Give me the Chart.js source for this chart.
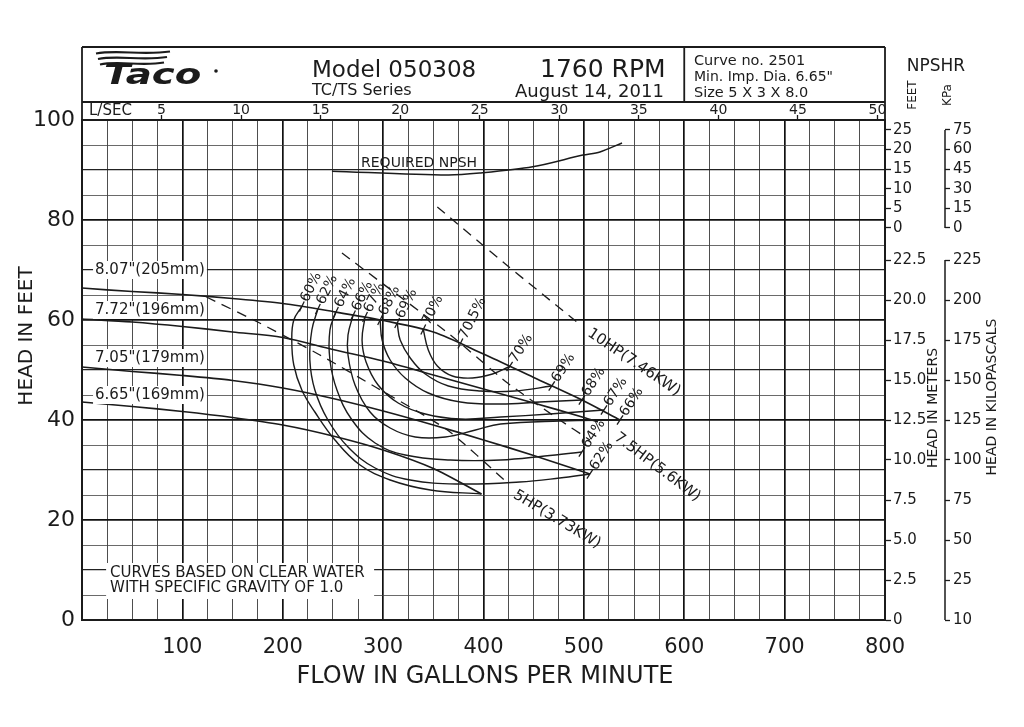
<!DOCTYPE html>
<html>
<head>
<meta charset="utf-8">
<script src="https://cdn.jsdelivr.net/npm/chart.js@4.4.1/dist/chart.umd.min.js"></script>
<style>html,body{margin:0;padding:0;background:#fff;}canvas{display:block;}</style>
</head>
<body>
<canvas id="c" width="1024" height="727"></canvas>
<script>
// ---------------- DATA (flow in US gpm, head in ft) ----------------
const flow807 = [0, 50, 100, 150, 200, 250, 300, 350, 400, 450, 500, 536];
const head807 = [66.4, 65.7, 65.1, 64.3, 63.3, 61.7, 59.9, 57.6, 53.2, 48.5, 43.8, 40.0];
const flow772 = [0, 50, 100, 150, 200, 250, 300, 350, 400, 450, 500, 514];
const head772 = [60.2, 59.6, 58.7, 57.6, 56.5, 54.1, 51.8, 49.0, 46.2, 43.4, 40.5, 39.6];
const flow705 = [0, 50, 100, 150, 200, 250, 300, 350, 400, 450, 500, 506];
const head705 = [50.6, 49.7, 48.9, 47.9, 46.4, 44.3, 41.8, 39.0, 36.0, 32.9, 29.6, 29.2];
const flow665 = [0, 50, 100, 150, 200, 250, 300, 350, 398];
const head665 = [43.6, 42.7, 41.7, 40.5, 39.0, 36.8, 34.0, 30.3, 25.2];

const impellerLabels = ['8.07"(205mm)', '7.72"(196mm)', '7.05"(179mm)', '6.65"(169mm)'];

// iso-efficiency contours
const eff60Flow = [219, 211, 209, 211, 219, 232, 252, 277, 307, 347, 398];
const eff60Head = [62.7, 60.0, 56.0, 51.0, 46.0, 41.6, 36.0, 31.0, 28.0, 26.0, 25.2];
const eff62Flow = [235, 229, 227, 232, 245, 265, 292, 327, 377, 436, 476, 506];
const eff62Head = [62.2, 58.0, 52.0, 46.0, 40.0, 34.6, 30.4, 28.0, 27.2, 27.6, 28.4, 29.2];
const eff64Flow = [253, 247, 247, 254, 269, 292, 322, 367, 417, 461, 498];
const eff64Head = [61.6, 58.0, 52.0, 46.0, 40.0, 35.4, 33.0, 32.0, 32.0, 32.8, 33.6];
const eff66Flow = [270, 265, 265, 272, 287, 307, 332, 362, 392, 417, 476, 536];
const eff66Head = [60.9, 57.0, 53.0, 47.0, 41.6, 38.4, 36.6, 36.6, 38.0, 39.2, 39.8, 40.0];
const eff67Flow = [282, 279, 283, 295, 315, 342, 377, 417, 466, 520];
const eff67Head = [60.6, 56.0, 51.6, 47.0, 43.4, 41.2, 40.2, 40.6, 41.2, 42.0];
const eff68Flow = [297, 299, 307, 322, 345, 377, 417, 456, 498];
const eff68Head = [60.0, 56.0, 52.0, 48.4, 45.4, 43.6, 43.2, 43.6, 44.0];
const eff69Flow = [314, 317, 327, 342, 365, 397, 431, 468];
const eff69Head = [59.4, 56.0, 52.4, 49.2, 46.8, 45.8, 45.8, 46.8];
const eff70Flow = [340, 345, 354, 369, 389, 409, 426];
const eff70Head = [58.1, 54.0, 50.8, 48.8, 48.4, 49.2, 50.7];
const eff705Flow = [377];
const eff705Head = [55.3];

// motor power lines
const hp10Flow = [354, 423, 493];
const hp10Head = [82.6, 71.0, 59.6];
const hp75Flow = [259, 367, 424, 476, 506];
const hp75Head = [73.4, 57.0, 47.4, 40.0, 36.0];
const hp5Flow = [124, 177, 237, 294, 364, 423];
const hp5Head = [64.6, 59.4, 53.0, 46.4, 38.0, 27.6];
const hpLabels = ['10HP(7.46KW)', '7.5HP(5.6KW)', '5HP(3.73KW)'];

// required NPSH (ft) on its own scale
const npshFlow = [249, 364, 396, 449, 499, 516, 538];
const npshFeet = [14.5, 13.5, 14.0, 15.6, 18.6, 19.4, 21.7];

// tick labels
const flowTicks = [100, 200, 300, 400, 500, 600, 700, 800];
const headTicks = [0, 20, 40, 60, 80, 100];
const lsecTicks = [5, 10, 15, 20, 25, 30, 35, 40, 45, 50];
const npshFeetTicks = [0, 5, 10, 15, 20, 25];
const npshKpaTicks = [0, 15, 30, 45, 60, 75];
const meterTicks = [0, 2.5, 5, 7.5, 10, 12.5, 15, 17.5, 20, 22.5];
const meterLabels = ['0', '2.5', '5.0', '7.5', '10.0', '12.5', '15.0', '17.5', '20.0', '22.5'];
const kpaTicks = [0, 25, 50, 75, 100, 125, 150, 175, 200, 225];
const kpaLabels = ['10', '25', '50', '75', '100', '125', '150', '175', '200', '225'];

// ---------------- SCALE RELATIONS ----------------
const FLOW_MAX = 800, HEAD_MAX = 100;
const GPM_PER_LS = 15.85;
const NPSH_MIN = -100, NPSH_MAX = 27.55;       // NPSHR-feet axis laid over the head axis
const M_TO_CHART_FT = 3.2;                       // meter scale as printed
const npshToHead = f => (f - NPSH_MIN) / (NPSH_MAX - NPSH_MIN) * HEAD_MAX;

const INK = '#1b1b1b';
const FONT = "'DejaVu Sans', 'Noto Sans', sans-serif";
const fnt = (s, w) => (w ? w + ' ' : '') + s + 'px ' + FONT;

const mk = (xs, ys) => xs.map((x, i) => ({x, y: ys[i]}));
const line = (xs, ys, extra) => Object.assign({
  data: mk(xs, ys), showLine: true, borderColor: INK, borderWidth: 1.4,
  pointRadius: 0, tension: 0.4, fill: false, xAxisID: 'x', yAxisID: 'y'
}, extra || {});

const datasets = [
  line(flow807, head807, {borderWidth: 1.7, tension: 0.3}),
  line(flow772, head772, {borderWidth: 1.7, tension: 0.3}),
  line(flow705, head705, {borderWidth: 1.7, tension: 0.3}),
  line(flow665, head665, {borderWidth: 1.7, tension: 0.3}),
  line(eff60Flow, eff60Head), line(eff62Flow, eff62Head), line(eff64Flow, eff64Head),
  line(eff66Flow, eff66Head), line(eff67Flow, eff67Head), line(eff68Flow, eff68Head),
  line(eff69Flow, eff69Head), line(eff70Flow, eff70Head),
  line(hp10Flow, hp10Head, {borderDash: [10, 7], borderWidth: 1.3, tension: 0.2}),
  line(hp75Flow, hp75Head, {borderDash: [10, 7], borderWidth: 1.3, tension: 0.2}),
  line(hp5Flow, hp5Head, {borderDash: [10, 7], borderWidth: 1.3, tension: 0.2}),
  line(npshFlow, npshFeet, {yAxisID: 'yN', borderWidth: 1.5, tension: 0.3})
];

// ---------------- LABEL PLACEMENT ----------------
const effLeft = [['60%', eff60Flow, eff60Head], ['62%', eff62Flow, eff62Head], ['64%', eff64Flow, eff64Head],
  ['66%', eff66Flow, eff66Head], ['67%', eff67Flow, eff67Head], ['68%', eff68Flow, eff68Head],
  ['69%', eff69Flow, eff69Head], ['70%', eff70Flow, eff70Head], ['70.5%', eff705Flow, eff705Head]];
const effRight = [['70%', eff70Flow, eff70Head], ['69%', eff69Flow, eff69Head], ['68%', eff68Flow, eff68Head],
  ['67%', eff67Flow, eff67Head], ['66%', eff66Flow, eff66Head], ['64%', eff64Flow, eff64Head],
  ['62%', eff62Flow, eff62Head]];
const place = {
  leftAngle: -64, rightAngle: -57, gap: 6, tick: 11, effFont: 14,
  hp: [{dx: 12, dy: 10, angle: 34}, {dx: 26, dy: -4, angle: 37}, {dx: 8, dy: 12, angle: 31}],
  impLabelFlow: 11, impLabelHead: [70, 62, 52.4, 45],
  npshText: {flow: 278, npsh: 16.6},
  note: {flow: 28, head: [9.4, 6.4]}
};

function rotText(ctx, s, x, y, deg, font, align, base) {
  ctx.save(); ctx.translate(x, y); ctx.rotate(deg * Math.PI / 180);
  ctx.font = font; ctx.textAlign = align || 'left'; ctx.textBaseline = base || 'middle';
  ctx.fillText(s, 0, 0); ctx.restore();
}
function txt(ctx, s, x, y, font, align, base) {
  ctx.font = font; ctx.textAlign = align || 'left'; ctx.textBaseline = base || 'alphabetic';
  ctx.fillText(s, x, y);
}

const overlay = {
  id: 'overlay',
  beforeDraw(chart) {
    const c = chart.ctx; c.save(); c.fillStyle = '#fff'; c.fillRect(0, 0, chart.width, chart.height); c.restore();
  },
  afterDraw(chart) {
    const ctx = chart.ctx, a = chart.chartArea;
    const xs = chart.scales.x, ys = chart.scales.y, yn = chart.scales.yN, r2 = chart.scales.yR2;
    const px = v => xs.getPixelForValue(v), py = v => ys.getPixelForValue(v);
    ctx.save();
    ctx.strokeStyle = INK; ctx.fillStyle = INK; ctx.lineCap = 'butt';

    // header frame
    const hTop = 47, hBot = 102;
    ctx.lineWidth = 1.8;
    ctx.beginPath();
    ctx.moveTo(a.left, hTop); ctx.lineTo(a.right, hTop);
    ctx.moveTo(a.left, hTop); ctx.lineTo(a.left, a.top);
    ctx.moveTo(a.right, hTop); ctx.lineTo(a.right, a.top);
    ctx.moveTo(a.left, hBot); ctx.lineTo(a.right, hBot);
    ctx.moveTo(px(600), hTop); ctx.lineTo(px(600), hBot);
    ctx.stroke();

    // logo
    ctx.lineWidth = 2.2;
    [52.5, 58, 63.5].forEach((y, i) => {
      ctx.beginPath(); ctx.moveTo(96 + i * 2, y + 1);
      ctx.bezierCurveTo(118, y - 3, 142, y + 3, 170 - i * 3, y - 1); ctx.stroke();
    });
    ctx.save(); ctx.translate(104, 84); ctx.scale(1.38, 1);
    ctx.font = fnt(28, 'italic bold'); ctx.textAlign = 'left'; ctx.textBaseline = 'alphabetic';
    ctx.fillText('Taco', 0, 0); ctx.restore();
    ctx.beginPath(); ctx.arc(216, 71, 1.8, 0, 2 * Math.PI); ctx.fill();

    // header texts
    txt(ctx, 'Model 050308', 312, 77, fnt(23));
    txt(ctx, 'TC/TS Series', 312, 95, fnt(16));
    txt(ctx, '1760 RPM', 540, 77, fnt(25));
    txt(ctx, 'August 14, 2011', 515, 97, fnt(18));
    txt(ctx, 'Curve no. 2501', 694, 65, fnt(14.5));
    txt(ctx, 'Min. Imp. Dia. 6.65"', 694, 81, fnt(14));
    txt(ctx, 'Size 5 X 3 X 8.0', 694, 97, fnt(14.5));
    txt(ctx, 'L/SEC', 89, 111, fnt(15), 'left', 'middle');

    // right header
    txt(ctx, 'NPSHR', 936, 67, fnt(17), 'center', 'middle');
    rotText(ctx, 'FEET', 913, 95, -90, fnt(12), 'center', 'middle');
    rotText(ctx, 'KPa', 948, 95, -90, fnt(12), 'center', 'middle');
    rotText(ctx, 'HEAD IN METERS', 933, 408, -90, fnt(14), 'center', 'middle');
    rotText(ctx, 'HEAD IN KILOPASCALS', 992, 397, -90, fnt(14), 'center', 'middle');

    // kPa brackets
    ctx.lineWidth = 1.5;
    ctx.beginPath();
    ctx.moveTo(r2.left, r2.getPixelForValue(npshToHead(0))); ctx.lineTo(r2.left, r2.getPixelForValue(npshToHead(25)));
    ctx.moveTo(r2.left, r2.getPixelForValue(0)); ctx.lineTo(r2.left, r2.getPixelForValue(22.5 * M_TO_CHART_FT));
    ctx.stroke();

    // axis titles
    rotText(ctx, 'HEAD IN FEET', 27, 336, -90, fnt(20), 'center', 'middle');
    txt(ctx, 'FLOW IN GALLONS PER MINUTE', 485, 677, fnt(24), 'center', 'middle');

    // required NPSH label
    txt(ctx, 'REQUIRED NPSH', px(place.npshText.flow), yn.getPixelForValue(place.npshText.npsh), fnt(14), 'left', 'middle');

    // impeller labels with white background
    ctx.font = fnt(15);
    impellerLabels.forEach((s, i) => {
      const x = px(place.impLabelFlow), y = py(place.impLabelHead[i]);
      const w = ctx.measureText(s).width;
      ctx.fillStyle = '#fff'; ctx.fillRect(x, y - 9, w + 4, 18);
      ctx.fillStyle = INK; txt(ctx, s, x + 2, y, fnt(15), 'left', 'middle');
    });

    // note
    const nx = px(place.note.flow);
    ctx.fillStyle = '#fff'; ctx.fillRect(nx - 4, py(place.note.head[0]) - 10, 268, 36);
    ctx.fillStyle = INK;
    txt(ctx, 'CURVES BASED ON CLEAR WATER', nx, py(place.note.head[0]), fnt(15), 'left', 'middle');
    txt(ctx, 'WITH SPECIFIC GRAVITY OF 1.0', nx, py(place.note.head[1]), fnt(15), 'left', 'middle');

    // efficiency ticks + labels
    ctx.lineWidth = 1.3;
    const tickAt = (x, y, deg) => {
      const c = Math.cos(deg * Math.PI / 180), s = Math.sin(deg * Math.PI / 180), h = place.tick / 2;
      ctx.beginPath(); ctx.moveTo(x - c * h, y - s * h); ctx.lineTo(x + c * h, y + s * h); ctx.stroke();
    };
    const lab = (t, x, y, deg) => {
      const c = Math.cos(deg * Math.PI / 180), s = Math.sin(deg * Math.PI / 180);
      rotText(ctx, t, x + c * place.gap, y + s * place.gap, deg, fnt(place.effFont), 'left', 'middle');
    };
    effLeft.forEach(([t, F, H]) => {
      const x = px(F[0]), y = py(H[0]);
      tickAt(x, y, place.leftAngle); lab(t, x, y, place.leftAngle);
    });
    effRight.forEach(([t, F, H]) => {
      const n = F.length - 1, x = px(F[n]), y = py(H[n]);
      tickAt(x, y, place.rightAngle); lab(t, x, y, place.rightAngle);
    });

    // HP labels
    [[hp10Flow, hp10Head], [hp75Flow, hp75Head], [hp5Flow, hp5Head]].forEach(([F, H], i) => {
      const n = F.length - 1, p = place.hp[i];
      rotText(ctx, hpLabels[i], px(F[n]) + p.dx, py(H[n]) + p.dy, p.angle, fnt(15), 'left', 'middle');
    });
    ctx.restore();
  }
};

const fix = (key, val) => s => { s[key] = val; };
const rangeTicks = (step, max) => s => { const t = []; for (let v = 0; v <= max + 1e-9; v += step) t.push({value: v}); s.ticks = t; };

new Chart(document.getElementById('c'), {
  type: 'scatter',
  data: {datasets},
  plugins: [overlay],
  options: {
    responsive: false, animation: false, events: [],
    layout: {padding: 0},
    plugins: {legend: {display: false}, tooltip: {enabled: false}, title: {display: false}},
    scales: {
      x: {
        type: 'linear', position: 'bottom', min: 0, max: FLOW_MAX,
        afterBuildTicks: rangeTicks(25, FLOW_MAX), afterFit: fix('height', 107),
        ticks: {autoSkip: false, maxRotation: 0, padding: 15, color: INK, font: {family: FONT, size: 21},
          callback: v => flowTicks.includes(v) ? String(v) : ''},
        grid: {drawTicks: false, color: c => (c.tick && c.tick.value % 100 === 0) ? '#111' : '#3a3a3a',
          lineWidth: c => (c.tick && c.tick.value % 100 === 0) ? 1.7 : 0.9},
        border: {display: true, color: INK, width: 2}
      },
      x2: {
        type: 'linear', position: 'top', min: 0, max: FLOW_MAX / GPM_PER_LS,
        afterBuildTicks: s => { s.ticks = lsecTicks.map(v => ({value: v})); }, afterFit: fix('height', 120),
        ticks: {autoSkip: false, maxRotation: 0, padding: -4, color: INK, font: {family: FONT, size: 14}},
        grid: {drawOnChartArea: false, drawTicks: true, tickLength: 5, tickColor: INK, tickWidth: 1.3},
        border: {display: true, color: INK, width: 2}
      },
      y: {
        type: 'linear', position: 'left', min: 0, max: HEAD_MAX,
        afterBuildTicks: rangeTicks(5, HEAD_MAX), afterFit: fix('width', 82),
        ticks: {autoSkip: false, padding: 7, color: INK, font: {family: FONT, size: 22},
          callback: v => headTicks.includes(v) ? String(v) : ''},
        grid: {drawTicks: false,
          color: c => (c.tick && c.tick.value % 20 === 0) ? '#111' : (c.tick && c.tick.value % 10 === 0 ? '#222' : '#444'),
          lineWidth: c => (c.tick && c.tick.value % 20 === 0) ? 1.7 : (c.tick && c.tick.value % 10 === 0 ? 1.2 : 0.8)},
        border: {display: true, color: INK, width: 2}
      },
      yR1: {
        type: 'linear', position: 'right', weight: 0, min: 0, max: HEAD_MAX,
        afterBuildTicks: s => {
          const t = npshFeetTicks.map(v => ({value: npshToHead(v), txt: String(v)}))
            .concat(meterTicks.map((v, i) => ({value: v * M_TO_CHART_FT, txt: meterLabels[i]})));
          t.sort((p, q) => p.value - q.value); s.ticks = t;
        },
        afterFit: fix('width', 60),
        ticks: {autoSkip: false, padding: 2, color: INK, font: {family: FONT, size: 15},
          callback: (v, i, t) => t[i].txt},
        grid: {drawOnChartArea: false, drawTicks: true, tickLength: 6, tickColor: INK, tickWidth: 1.3},
        border: {display: true, color: INK, width: 2}
      },
      yR2: {
        type: 'linear', position: 'right', weight: 1, min: 0, max: HEAD_MAX,
        afterBuildTicks: s => {
          const t = npshKpaTicks.map(v => ({value: npshToHead(v / 3), txt: String(v)}))
            .concat(kpaTicks.map((v, i) => ({value: v / 10 * M_TO_CHART_FT, txt: kpaLabels[i]})));
          t.sort((p, q) => p.value - q.value); s.ticks = t;
        },
        afterFit: fix('width', 79),
        ticks: {autoSkip: false, padding: 3, color: INK, font: {family: FONT, size: 15},
          callback: (v, i, t) => t[i].txt},
        grid: {drawOnChartArea: false, drawTicks: true, tickLength: 5, tickColor: INK, tickWidth: 1.3},
        border: {display: false}
      },
      yN: {type: 'linear', display: false, min: NPSH_MIN, max: NPSH_MAX}
    }
  }
});
</script>
</body>
</html>
